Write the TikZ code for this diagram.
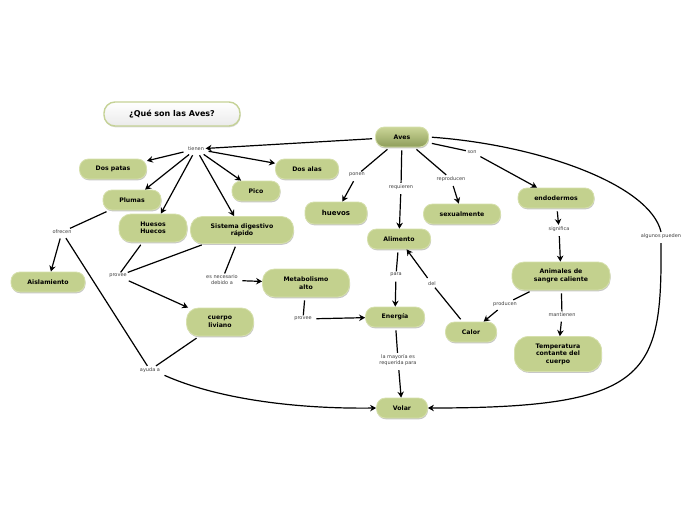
\documentclass[tikz,border=0pt]{standalone}
\usepackage{fontspec}
\setmainfont{DejaVu Sans}
\usetikzlibrary{shadows,arrows.meta}
\definecolor{nodegreen}{HTML}{C3D18E}
\definecolor{nodeedge}{HTML}{D6E0AC}
\definecolor{labgray}{HTML}{404040}
\definecolor{avestop}{HTML}{CBD698}
\definecolor{avesbot}{HTML}{8E9D5A}
\definecolor{titleedge}{HTML}{C5D296}
\begin{document}
\begin{tikzpicture}[x=1pt,y=-1pt,
  cn/.style 2 args={draw=nodeedge, line width=0.8pt, fill=nodegreen, rounded corners=9pt,
    minimum width=#1pt, minimum height=#2pt, inner sep=1pt, align=center,
    font=\fontsize{6.2}{7.4}\selectfont\bfseries,
    drop shadow={shadow xshift=0.5pt, shadow yshift=-1.3pt, fill=black, opacity=0.22}},
  lab/.style={font=\fontsize{5}{5.8}\selectfont, text=labgray, inner sep=1.5pt, align=center},
  ln/.style={line width=1.2pt, black, shorten <=3pt},
  ar/.style={ln, -{Stealth[length=6pt,width=6.5pt]}},
]
\useasboundingbox (0,0) rectangle (696,520);
\fill[white] (0,0) rectangle (696,520);

% title
\node[draw=titleedge, line width=1.4pt, top color=white, bottom color=white!92!black, rounded corners=11pt,
  minimum width=136pt, minimum height=24pt, inner sep=1pt, font=\fontsize{8}{9}\selectfont\bfseries,
  drop shadow={shadow xshift=0.5pt, shadow yshift=-1.3pt, fill=black, opacity=0.15}] (title) at (172,114) {¿Qué son las Aves?};

% concepts
\node[cn={53}{20}, top color=avestop, bottom color=avesbot] (aves) at (402,137) {Aves};
\node[cn={67}{20}] (dospatas) at (113,169) {Dos patas};
\node[cn={63}{20}] (dosalas) at (307,169) {Dos alas};
\node[cn={48}{20}] (pico) at (256,191) {Pico};
\node[cn={58}{20}] (plumas) at (132,200) {Plumas};
\node[cn={68}{28}, rounded corners=12pt] (huesos) at (153,228) {Huesos\\Huecos};
\node[cn={103}{27}, rounded corners=12pt] (sistema) at (242,230) {Sistema digestivo\\rápido};
\node[cn={62}{22}, font=\fontsize{7}{8}\selectfont\bfseries] (huevos) at (336,213) {huevos};
\node[cn={77}{20}] (sexual) at (462,214) {sexualmente};
\node[cn={63}{20}] (alimento) at (399,239) {Alimento};
\node[cn={76}{20}] (endo) at (556,198) {endodermos};
\node[cn={98}{28}, rounded corners=12pt] (animales) at (561,276) {Animales de\\sangre caliente};
\node[cn={74}{20}] (aisl) at (48,282) {Aislamiento};
\node[cn={87}{28}, rounded corners=12pt] (metab) at (306,283) {Metabolismo\\alto};
\node[cn={67}{28}, rounded corners=12pt] (cuerpo) at (220,322) {cuerpo\\liviano};
\node[cn={59}{20}] (energia) at (395,317) {Energía};
\node[cn={51}{20}] (calor) at (471,332) {Calor};
\node[cn={87}{35}, rounded corners=14pt] (temp) at (558,354) {Temperatura\\contante del\\cuerpo};
\node[cn={51}{20}] (volar) at (402,408) {Volar};

% linking phrases
\node[lab] (tienen) at (196,149) {tienen};
\node[lab] (ponen) at (357,175) {ponen};
\node[lab] (requieren) at (401,187) {requieren};
\node[lab] (reproducen) at (451,179) {reproducen};
\node[lab] (son) at (472,152) {son};
\node[lab] (algunos) at (661,236) {algunos pueden};
\node[lab] (significa) at (559,229) {significa};
\node[lab] (ofrecen) at (62,232) {ofrecen};
\node[lab] (provee) at (118,276) {provee};
\node[lab] (esnec) at (222,280) {es necesario\\debido a};
\node[lab] (provee2) at (303,319) {provee};
\node[lab] (para) at (396,275) {para};
\node[lab] (del) at (432,284) {del};
\node[lab] (producen) at (505,304) {producen};
\node[lab] (mantienen) at (562,315) {mantienen};
\node[lab] (mayoria) at (398,360) {la mayoría es\\requerida para};
\node[lab] (ayuda) at (150,370) {ayuda a};

% connectors
\draw[ar] (aves) -- (tienen);
\draw[ar] (tienen) -- (dospatas);
\draw[ar] (tienen) -- (plumas);
\draw[ar] (tienen) -- (huesos);
\draw[ar] (tienen) -- (sistema);
\draw[ar] (tienen) -- (pico);
\draw[ar] (tienen) -- (dosalas);

\draw[ln] (aves) -- (ponen);
\draw[ar] (ponen) -- (huevos);
\draw[ln] (aves) -- (requieren);
\draw[ar] (requieren) -- (alimento);
\draw[ln] (aves) -- (reproducen);
\draw[ar] (reproducen) -- (sexual);
\draw[ln] (aves) -- (son);
\draw[ar] (son) -- (endo);

\draw[ln] (aves.east) .. controls (540,145) and (650,185) .. (algunos.north);
\draw[ar] (algunos.south) .. controls (662,375) and (650,408) .. (volar.east);

\draw[ar] (endo) -- (significa);
\draw[ar] (significa) -- (animales);
\draw[ln] (animales) -- (producen);
\draw[ar] (producen) -- (calor);
\draw[ln] (animales) -- (mantienen);
\draw[ar] (mantienen) -- (temp);

\draw[ln] (calor) -- (del);
\draw[ar] (del) -- (alimento);
\draw[ln] (alimento) -- (para);
\draw[ar] (para) -- (energia);
\draw[ln] (energia) -- (mayoria);
\draw[ar] (mayoria) -- (volar);

\draw[ln] (plumas) -- (ofrecen);
\draw[ar] (ofrecen) -- (aisl);
\draw[ln] (ofrecen) -- (ayuda);

\draw[ln] (huesos) -- (provee);
\draw[ln] (sistema) -- (provee);
\draw[ar] (provee) -- (cuerpo);
\draw[ln] (cuerpo) -- (ayuda);
\draw[ar] (ayuda.south east) .. controls (220,400) and (300,409) .. (volar.west);

\draw[ln] (sistema) -- (esnec);
\draw[ar] (esnec) -- (metab);
\draw[ln] (metab) -- (provee2);
\draw[ar] (provee2) -- (energia);
\end{tikzpicture}
\end{document}
